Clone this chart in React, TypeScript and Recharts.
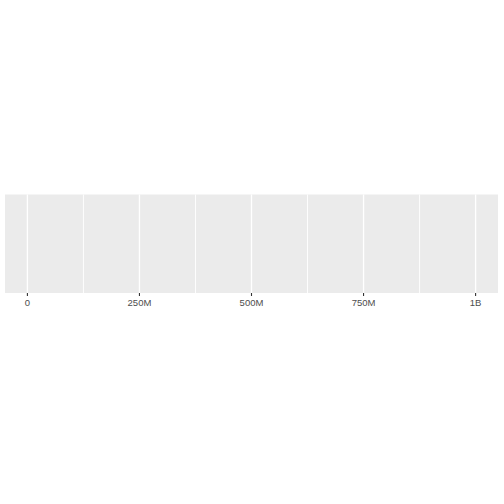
import React from "react";
import { ScatterChart, Scatter, XAxis, YAxis, CartesianGrid } from "recharts";

const X_DOMAIN = [-5e7, 1.05e9];
const MAJOR_BREAKS = [0, 2.5e8, 5e8, 7.5e8, 1e9];
const MINOR_BREAKS = [1.25e8, 3.75e8, 6.25e8, 8.75e8];
const POINTS: { x: number; y: number }[] = [];

const fmt = (v: number) => {
  if (v === 0) return "0";
  if (v >= 1e9) return `${v / 1e9}B`;
  return `${v / 1e6}M`;
};

const LEFT = 5;
const RIGHT = 6;
const W = 504;

// use the axis scale when recharts hands one over, else the same linear mapping
const xPx = (props: any, v: number) => {
  const s = props?.xAxis?.scale;
  if (typeof s === "function") return s(v);
  if (s && typeof s.map === "function") return s.map(v);
  return LEFT + ((v - X_DOMAIN[0]) / (X_DOMAIN[1] - X_DOMAIN[0])) * (W - LEFT - RIGHT);
};

export default function App() {
  return (
    <div style={{ position: "absolute", left: 0, top: 0, width: 504, height: 504, background: "#fff" }}>
      <ScatterChart width={W} height={504} margin={{ top: 194.5, right: RIGHT, bottom: 181, left: LEFT }}>
        <CartesianGrid
          fill="#EBEBEB"
          fillOpacity={1}
          horizontal={false}
          stroke="#FFFFFF"
          strokeWidth={0.9}
          verticalCoordinatesGenerator={(props: any) => MINOR_BREAKS.map((b) => xPx(props, b))}
        />
        <CartesianGrid
          horizontal={false}
          stroke="#FFFFFF"
          strokeWidth={1.3}
          verticalCoordinatesGenerator={(props: any) => MAJOR_BREAKS.map((b) => xPx(props, b))}
        />
        <XAxis
          type="number"
          dataKey="x"
          domain={X_DOMAIN}
          ticks={MAJOR_BREAKS}
          tickFormatter={fmt}
          allowDataOverflow
          axisLine={false}
          tickSize={3}
          tickMargin={3.5}
          height={30}
          tickLine={{ stroke: "#333333", strokeWidth: 1.1 }}
          tick={{ fill: "#4D4D4D", fontSize: 9.5, fontFamily: "Liberation Sans, Arial, sans-serif" }}
        />
        <YAxis type="number" dataKey="y" domain={[0, 1]} hide />
        <Scatter data={POINTS} fill="#000000" isAnimationActive={false} />
      </ScatterChart>
    </div>
  );
}
